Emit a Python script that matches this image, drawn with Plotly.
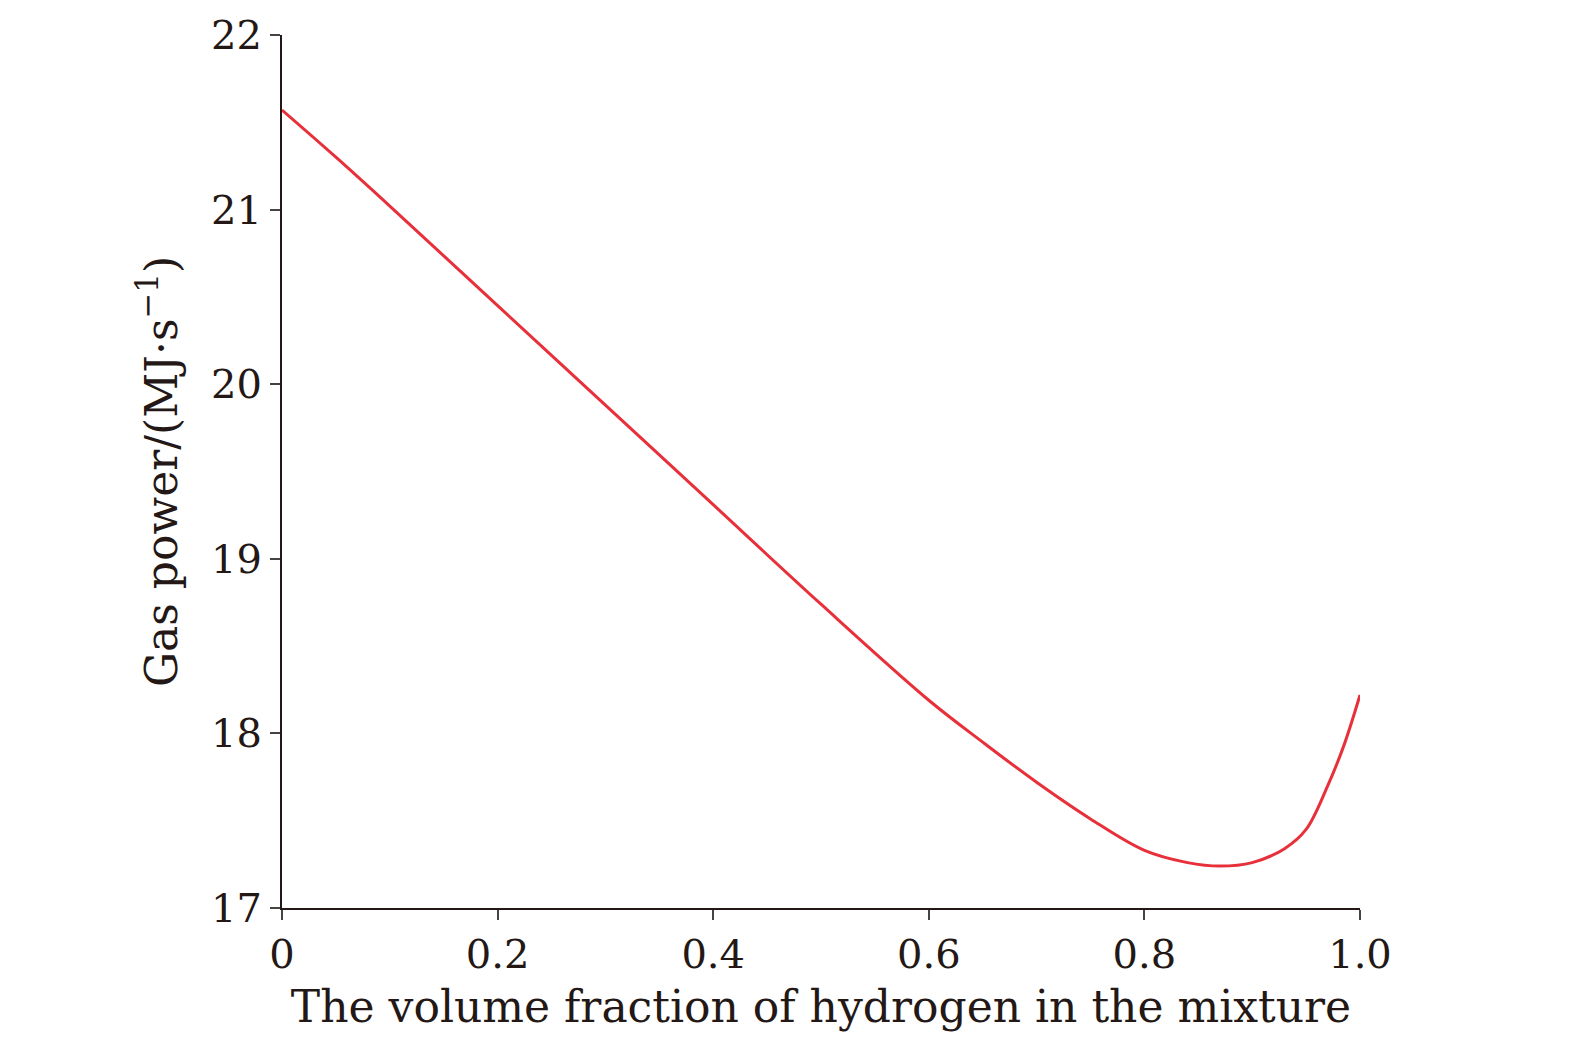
import plotly.graph_objects as go

x_frac = [0.0, 0.05, 0.1, 0.2, 0.3, 0.4, 0.5, 0.6, 0.65, 0.7, 0.75, 0.8, 0.84, 0.87, 0.9, 0.93, 0.95, 0.97, 0.985, 1.0]
gas_power = [21.57, 21.30, 21.02, 20.45, 19.88, 19.31, 18.74, 18.19, 17.95, 17.72, 17.51, 17.33, 17.26, 17.24, 17.26, 17.34, 17.45, 17.70, 17.93, 18.22]

tickfont = dict(family="DejaVu Serif, Liberation Serif, serif", size=40, color="#231815")
titlefont = dict(family="DejaVu Serif, Liberation Serif, serif", size=44, color="#231815")
fig = go.Figure(go.Scatter(x=x_frac, y=gas_power, mode="lines", line=dict(color="#e8303a", width=3, shape="spline")))
fig.update_layout(
    width=1575, height=1055, paper_bgcolor="white", plot_bgcolor="white",
    margin=dict(l=274, r=223, t=27, b=155), showlegend=False, font=tickfont,
    xaxis=dict(range=[0, 1.0], tickvals=[0, 0.2, 0.4, 0.6, 0.8, 1.0], ticktext=["0", "0.2", "0.4", "0.6", "0.8", "1.0"],
               showline=True, linecolor="#231815", linewidth=2, ticks="outside", ticklen=10, tickwidth=2,
               tickfont=tickfont, automargin=False,
               showgrid=False, zeroline=False, title=dict(text="The volume fraction of hydrogen in the mixture", font=titlefont, standoff=15)),
    yaxis=dict(range=[17, 22], tickvals=[17, 18, 19, 20, 21, 22], showline=True, linecolor="#231815", linewidth=2,
               ticks="outside", ticklen=10, tickwidth=2, showgrid=False, zeroline=False, tickfont=tickfont, automargin=False,
               title=dict(text="Gas power/(MJ·s<sup>−1</sup>)", font=titlefont, standoff=20)),
)
fig.write_html("out.html")
